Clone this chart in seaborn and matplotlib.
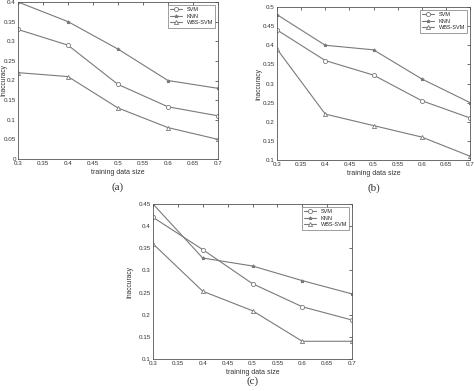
import numpy as np
import pandas as pd
import matplotlib
matplotlib.use("Agg")
import matplotlib.pyplot as plt
import seaborn as sns

sns.set_style("white")
plt.rcParams.update({"font.family": "Liberation Sans", "font.size": 4.5})

sizes = [0.3, 0.4, 0.5, 0.6, 0.7]

svm_a = [0.33, 0.29, 0.19, 0.133, 0.11]
knn_a = [0.40, 0.35, 0.28, 0.20, 0.18]
wbs_a = [0.22, 0.21, 0.13, 0.08, 0.05]

svm_b = [0.44, 0.36, 0.322, 0.255, 0.21]
knn_b = [0.48, 0.40, 0.388, 0.312, 0.25]
wbs_b = [0.39, 0.22, 0.19, 0.16, 0.11]

svm_c = [0.42, 0.347, 0.27, 0.218, 0.188]
knn_c = [0.45, 0.328, 0.31, 0.277, 0.247]
wbs_c = [0.36, 0.253, 0.209, 0.14, 0.14]

methods = ["SVM", "KNN", "WBS-SVM"]
markers = {"SVM": "o", "KNN": "*", "WBS-SVM": "^"}
msize = {"SVM": 3, "KNN": 2.5, "WBS-SVM": 3}
GREY = "#7a7a7a"
W, H = 474, 391

# caption, series, ylim, yticks, axes box in pixels (left, top, right, bottom), caption y, ylabel x
panels = [
    ("(a)", [svm_a, knn_a, wbs_a], (0, 0.4), np.arange(0, 0.401, 0.05),
     (18, 2, 218, 159), 187, 7.5),
    ("(b)", [svm_b, knn_b, wbs_b], (0.1, 0.5), np.arange(0.1, 0.501, 0.05),
     (277, 7, 470, 160), 188, 262),
    ("(c)", [svm_c, knn_c, wbs_c], (0.1, 0.45), np.arange(0.1, 0.451, 0.05),
     (153, 204, 352, 359), 381, 133),
]

fig = plt.figure(figsize=(W / 100, H / 100), dpi=100)

for cap, series, ylim, yticks, box, cap_y, ylab_x in panels:
    l, t, r, b = box
    ax = fig.add_axes([l / W, 1 - b / H, (r - l) / W, (b - t) / H])
    for name, vals in zip(methods, series):
        sns.lineplot(x=sizes, y=vals, ax=ax, color=GREY, linewidth=0.8,
                     marker=markers[name], markersize=msize[name],
                     markerfacecolor="white" if name != "KNN" else GREY,
                     markeredgecolor=GREY, markeredgewidth=0.6, label=name)
    xt = np.round(np.arange(0.3, 0.701, 0.05), 2)
    ax.set_xlim(0.3, 0.7)
    ax.set_ylim(*ylim)
    ax.set_xticks(xt)
    ax.set_xticklabels([f"{v:g}" for v in xt])
    ax.set_yticks(yticks)
    ax.set_yticklabels([f"{v:g}" for v in np.round(yticks, 2)])
    ax.tick_params(direction="in", length=2, width=0.5, pad=1.5, colors="#333333",
                   top=True, right=True, labelsize=4.5)
    for s in ax.spines.values():
        s.set_color("#555555")
        s.set_linewidth(0.6)
    ax.set_xlabel("training data size", fontsize=5, labelpad=2, color="#333333")
    ax.set_ylabel("Inaccuracy", fontsize=4.8, color="#333333")
    ax.yaxis.set_label_coords((ylab_x - l) / (r - l), 0.5)
    leg = ax.legend(loc="upper right", fontsize=4, frameon=True, fancybox=False,
                    handlelength=2.2, borderpad=0.4, labelspacing=0.3,
                    edgecolor="#555555")
    leg.get_frame().set_linewidth(0.5)
    fig.text((l + r) / 2 / W, 1 - cap_y / H, cap, ha="center", va="center",
             fontsize=8, family="Liberation Serif", color="#333333")

fig.savefig("out.png", dpi=100)
